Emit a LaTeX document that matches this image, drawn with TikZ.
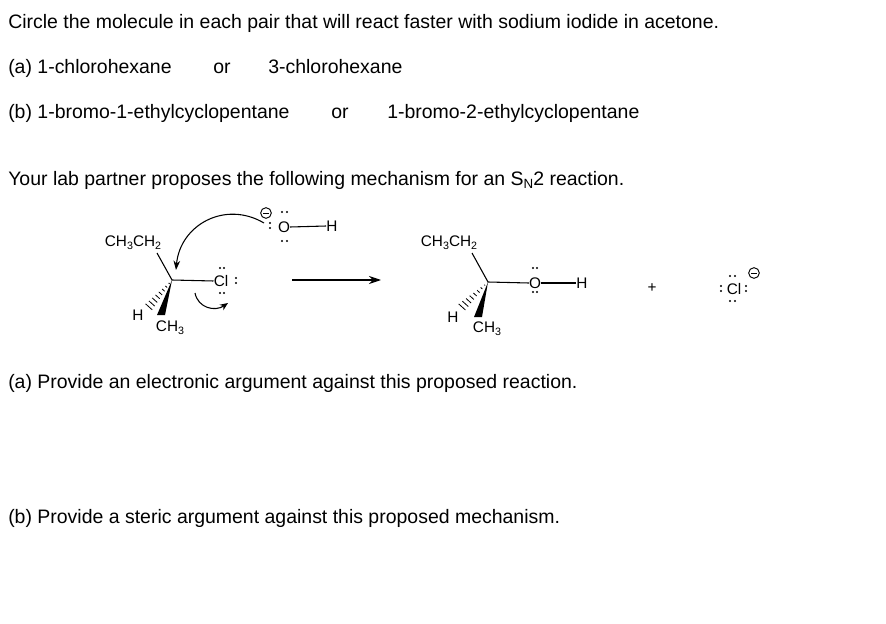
\documentclass[tikz,border=0pt]{standalone}
\usepackage{fontspec}
\setmainfont{Liberation Sans}
\usetikzlibrary{calc,arrows.meta}
\newcommand{\sbs}[1]{\raisebox{-0.35ex}{\fontsize{8}{9}\selectfont #1}}
\begin{document}
\begin{tikzpicture}[x=0.75pt,y=-0.75pt,
  txt/.style={anchor=mid west,inner sep=0pt,font=\fontsize{14.6}{17}\selectfont},
  lab/.style={inner sep=0pt,font=\fontsize{11.5}{13}\selectfont},
  dot/.style={circle,fill=black,inner sep=0pt,minimum size=1.6pt},
  bond/.style={line width=0.8pt},
  minus/.style={circle,draw,line width=0.7pt,inner sep=0pt,minimum size=8pt,path picture={\draw[line width=0.7pt] ([xshift=-2.2pt]path picture bounding box.center)--([xshift=2.2pt]path picture bounding box.center);}}]
\useasboundingbox (0,0) rectangle (886,624);
\node[txt] (t1) at (8,25) {Circle the molecule in each pair that will react faster with sodium iodide in acetone.};
\node[txt] (a1) at (8,70) {(a) 1-chlorohexane};
\node[txt] (a2) at (213,70) {or};
\node[txt] (a3) at (268,70) {3-chlorohexane};
\node[txt] (b1) at (8,115) {(b) 1-bromo-1-ethylcyclopentane};
\node[txt] (b2) at (331,115) {or};
\node[txt] (b3) at (387,115) {1-bromo-2-ethylcyclopentane};
\node[txt] (t2) at (8,182) {Your lab partner proposes the following mechanism for an S\raisebox{-0.25ex}{\fontsize{10}{11}\selectfont N}2 reaction.};
\node[txt] (q1) at (8,385) {(a) Provide an electronic argument against this proposed reaction.};
\node[txt] (q2) at (8,520) {(b) Provide a steric argument against this proposed mechanism.};
% reactant
\coordinate (C1) at (172,280);
\node[lab] (e1) at (133,243) {CH\sbs{3}CH\sbs{2}};
\node[lab] (cl1) at (221,281) {Cl};
\node[lab] (h1) at (138,315) {H};
\node[lab] (m1) at (170,328) {CH\sbs{3}};
\draw[bond] (157,253) -- (C1) -- (cl1.west);
\fill (C1) -- ([shift={(-4,0)}]161,315) -- ([shift={(4,0)}]161,315) -- cycle;
\foreach \t in {0.12,0.24,...,1.0}{
  \draw[line width=0.6pt] ($(C1)!\t!(148,308)$) ++(-3.5*\t,-3.5*\t*0.9) -- ++(7*\t,7*\t*0.9);}
\node[dot] at (220,268) {};\node[dot] at (224,268) {};
\node[dot] at (220,293) {};\node[dot] at (224,293) {};
\node[dot] at (236,278) {};\node[dot] at (236,283) {};
\node[lab] (o1) at (284,227) {O};
\node[lab] (oh1) at (332,226) {H};
\draw[bond] (o1.east) -- (oh1.west);
\node[minus] (n1) at (266,213) {};
\node[dot] at (282,212) {};\node[dot] at (287,212) {};
\node[dot] at (270,223) {};\node[dot] at (270,228) {};
\node[dot] at (282,241) {};\node[dot] at (287,241) {};
\draw[line width=0.8pt,-{Stealth[length=7pt,width=5pt]}] (264,223) .. controls (225,200) and (180,225) .. (176,270);
\draw[line width=0.8pt,-{Stealth[length=6pt,width=5pt]}] (195,293) .. controls (198,308) and (215,312) .. (228,303);
% reaction arrow
\coordinate (r1) at (292,280);
\coordinate (r2) at (381,280);
\draw[line width=0.8pt,-{Stealth[length=9pt,width=6pt]}] (r1) -- (r2);
% product
\coordinate (C2) at (488,282);
\node[lab] (e2) at (449,243) {CH\sbs{3}CH\sbs{2}};
\node[lab] (o2) at (535,283) {O};
\node[lab] (oh2) at (582,283) {H};
\node[lab] (h2) at (453,317) {H};
\node[lab] (m2) at (487,329) {CH\sbs{3}};
\draw[bond] (472,253) -- (C2) -- (o2.west);
\draw[bond] (o2.east) -- (oh2.west);
\fill (C2) -- ([shift={(-4,0)}]478,317) -- ([shift={(4,0)}]478,317) -- cycle;
\foreach \t in {0.12,0.24,...,1.0}{
  \draw[line width=0.6pt] ($(C2)!\t!(461,308)$) ++(-3.5*\t,-3.5*\t*0.9) -- ++(7*\t,7*\t*0.9);}
\node[dot] at (533,268) {};\node[dot] at (537,268) {};
\node[dot] at (533,292) {};\node[dot] at (537,292) {};
\node[lab] (plus) at (652,288) {+};
\node[lab] (cl2) at (734,289) {Cl};
\node[dot] at (721,286) {};\node[dot] at (721,291) {};
\node[dot] at (746,286) {};\node[dot] at (746,291) {};
\node[dot] at (730,276) {};\node[dot] at (735,276) {};
\node[dot] at (730,301) {};\node[dot] at (735,301) {};
\node[minus] (n2) at (754,273) {};
\end{tikzpicture}
\end{document}
